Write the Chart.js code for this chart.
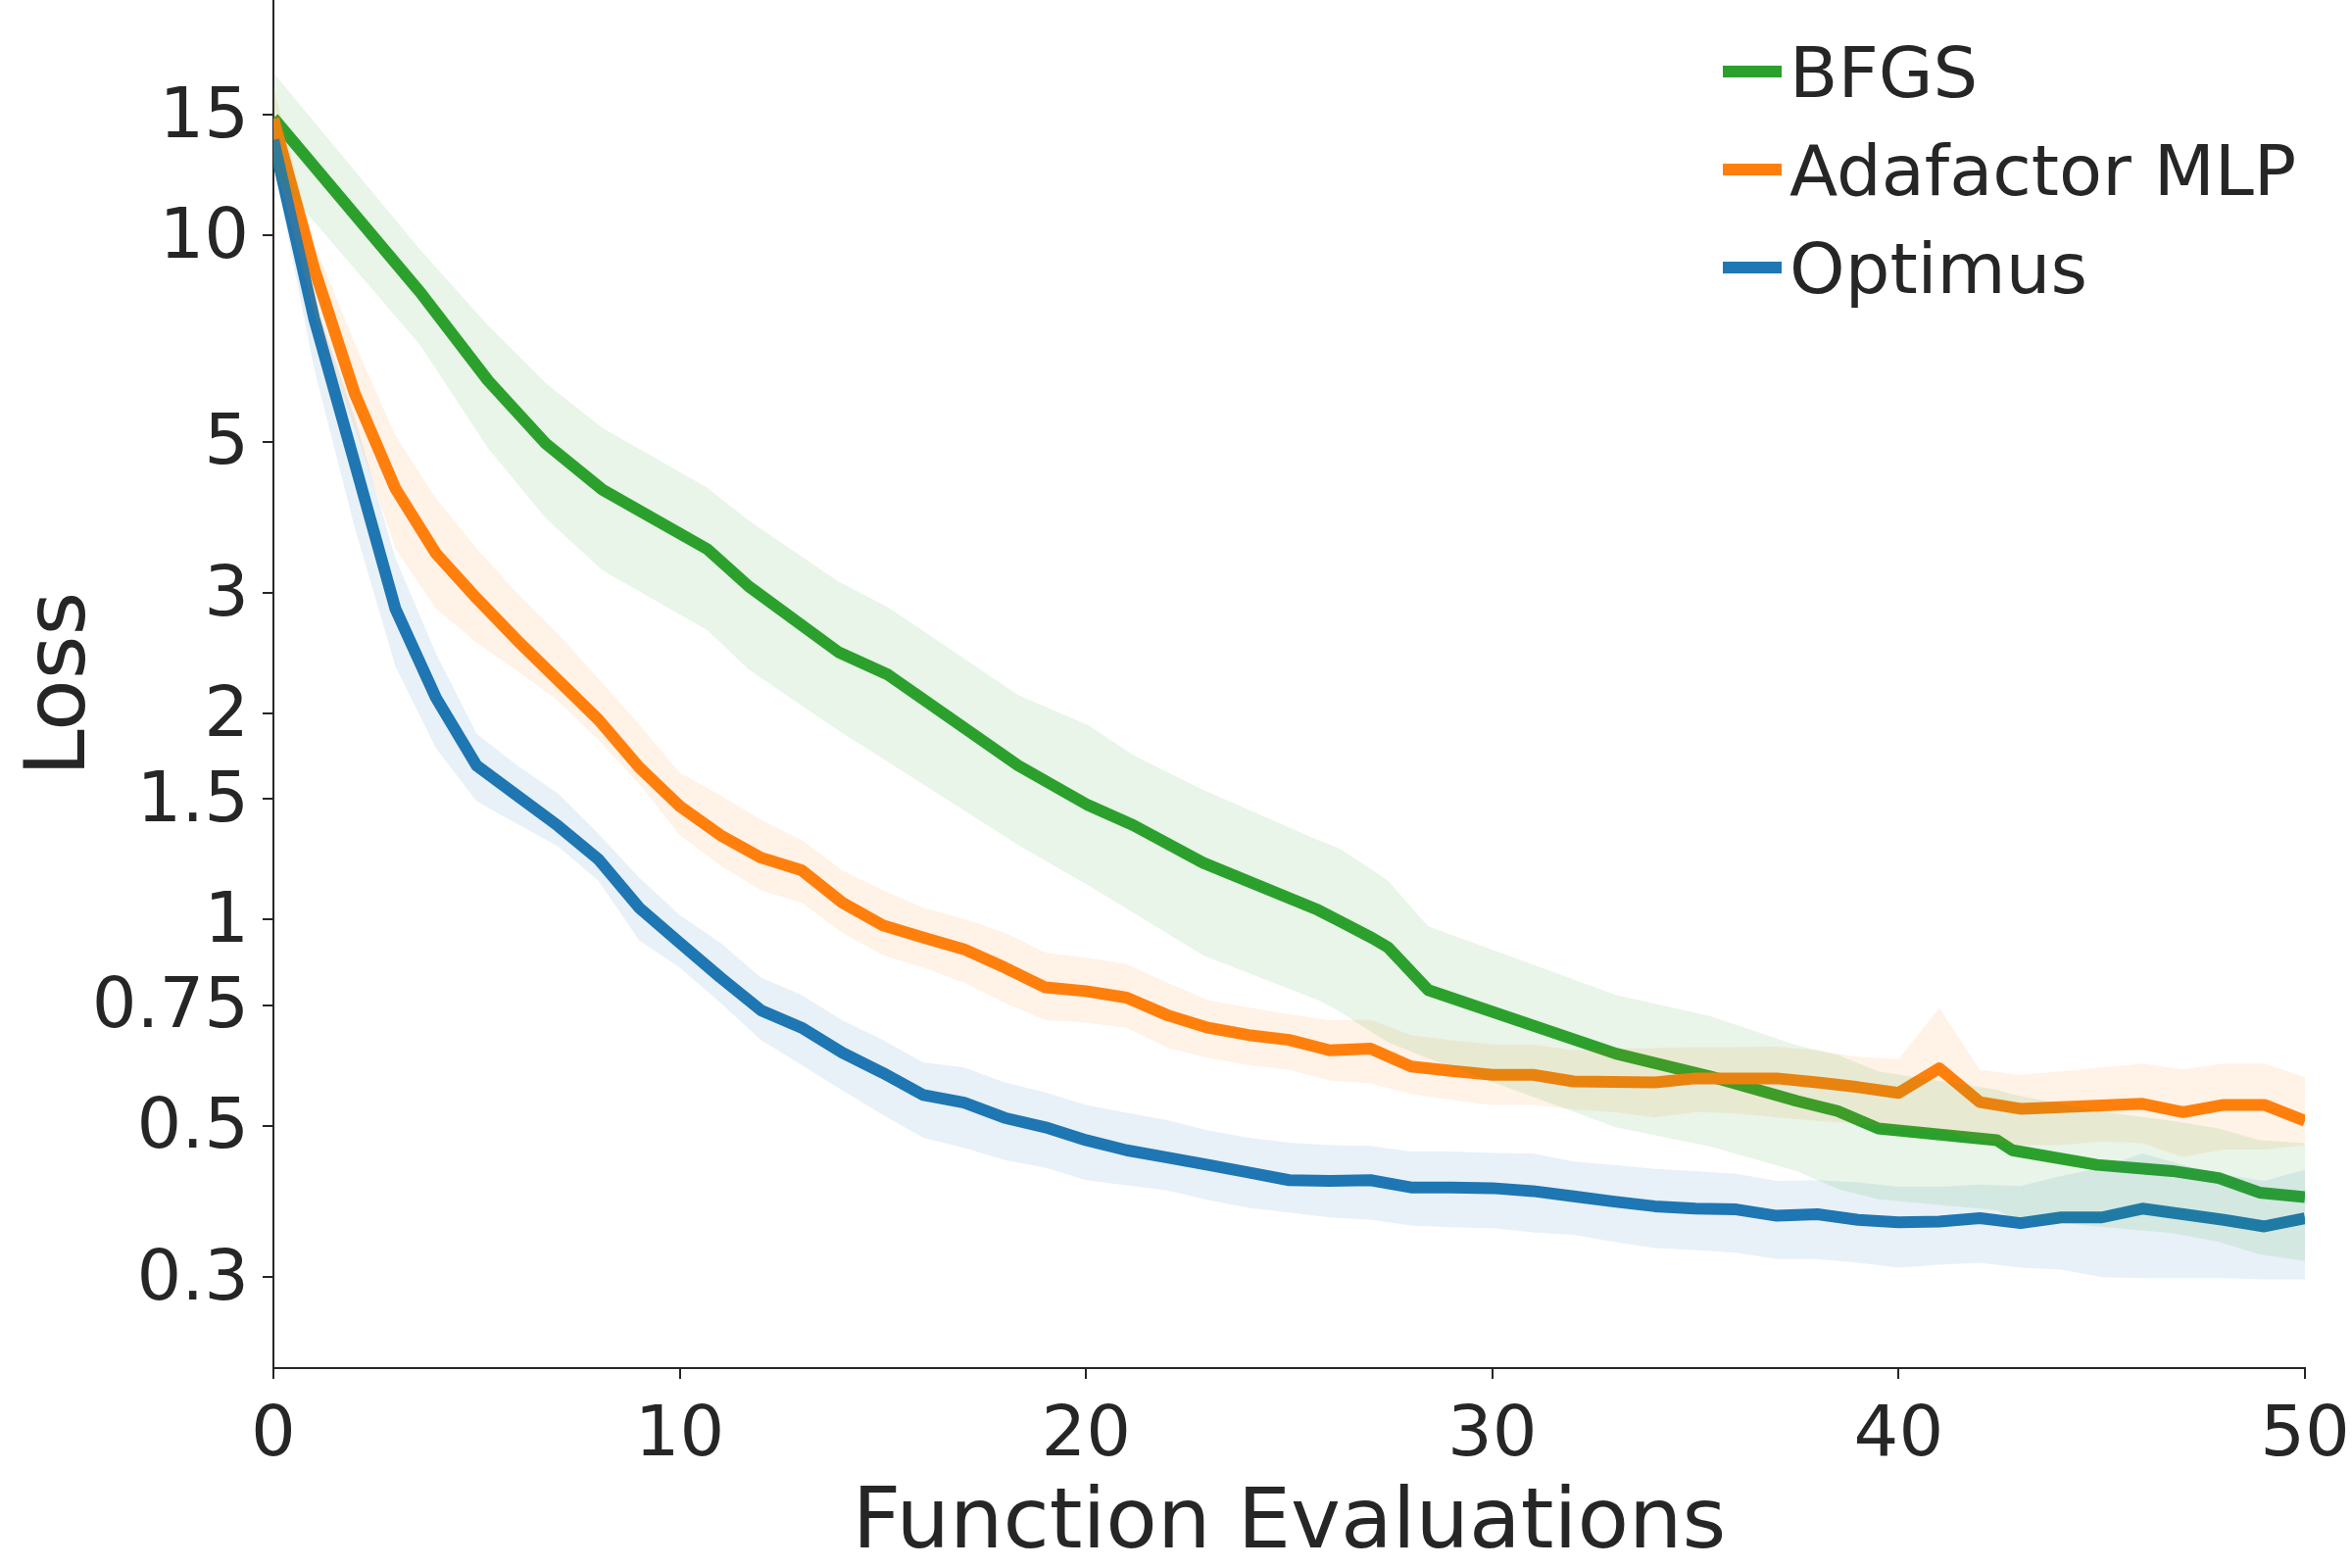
<!DOCTYPE html>
<html>
<head>
<meta charset="utf-8">
<script src="https://cdn.jsdelivr.net/npm/chart.js@4.4.1/dist/chart.umd.min.js"></script>
<style>
  html, body { margin: 0; padding: 0; background: #fff; }
  #wrap { width: 2400px; height: 1600px; }
</style>
</head>
<body>
<div id="wrap"><canvas id="lossChart" width="2400" height="1600"></canvas></div>
<script>
// function evaluations for Adafactor MLP and Optimus
const evals = [0,1,2,3,4,5,6,7,8,9,10,11,12,13,14,15,16,17,18,19,20,21,22,23,24,25,
  26,27,28,29,30,31,32,33,34,35,36,37,38,39,40,41,42,43,44,45,46,47,48,49,50];

const adafactorMean = [14.8, 8.96, 5.88, 4.27, 3.43, 2.95, 2.56, 2.24, 1.96, 1.67, 1.465,
  1.329, 1.232, 1.181, 1.059, 0.981, 0.941, 0.905, 0.851, 0.796, 0.786, 0.769, 0.725,
  0.695, 0.678, 0.667, 0.644, 0.648, 0.610, 0.601, 0.593, 0.593, 0.580, 0.579, 0.578,
  0.586, 0.586, 0.586, 0.578, 0.569, 0.558, 0.606, 0.541, 0.529, 0.532, 0.535, 0.538,
  0.523, 0.536, 0.536, 0.508];
const adafactorHigh = [16.5, 9.75, 6.96, 5.10, 4.13, 3.49, 3.00, 2.62, 2.25, 1.93, 1.64,
  1.52, 1.40, 1.307, 1.181, 1.104, 1.041, 1.002, 0.957, 0.895, 0.880, 0.861, 0.809,
  0.763, 0.744, 0.727, 0.713, 0.714, 0.678, 0.666, 0.657, 0.657, 0.644, 0.648, 0.649,
  0.651, 0.651, 0.652, 0.644, 0.630, 0.626, 0.743, 0.603, 0.593, 0.600, 0.608, 0.616,
  0.604, 0.616, 0.616, 0.588];
const adafactorLow = [13.0, 7.70, 5.23, 3.49, 2.85, 2.54, 2.31, 2.09, 1.83, 1.58, 1.329,
  1.20, 1.104, 1.059, 0.957, 0.887, 0.851, 0.809, 0.756, 0.713, 0.707, 0.695, 0.650,
  0.628, 0.613, 0.603, 0.582, 0.576, 0.556, 0.545, 0.536, 0.536, 0.528, 0.523, 0.514,
  0.523, 0.521, 0.514, 0.508, 0.503, 0.497, 0.492, 0.476, 0.468, 0.468, 0.474, 0.471,
  0.450, 0.461, 0.461, 0.468];

const optimusMean = [13.8, 7.57, 4.65, 2.85, 2.11, 1.68, 1.518, 1.372, 1.225, 1.041, 0.925,
  0.823, 0.737, 0.695, 0.639, 0.597, 0.554, 0.540, 0.513, 0.497, 0.476, 0.460, 0.449,
  0.438, 0.427, 0.416, 0.415, 0.416, 0.406, 0.406, 0.405, 0.401, 0.394, 0.387, 0.381,
  0.378, 0.377, 0.369, 0.371, 0.364, 0.361, 0.362, 0.366, 0.360, 0.367, 0.367, 0.378,
  0.371, 0.364, 0.356, 0.366];
const optimusHigh = [14.4, 8.10, 5.41, 3.38, 2.45, 1.87, 1.68, 1.53, 1.335, 1.152, 1.015,
  0.925, 0.823, 0.776, 0.713, 0.667, 0.618, 0.608, 0.578, 0.559, 0.536, 0.522, 0.509,
  0.492, 0.480, 0.472, 0.468, 0.467, 0.458, 0.458, 0.456, 0.455, 0.443, 0.438, 0.432,
  0.429, 0.425, 0.415, 0.416, 0.413, 0.407, 0.407, 0.410, 0.408, 0.422, 0.434, 0.455,
  0.438, 0.424, 0.415, 0.431];
const optimusLow = [12.8, 6.40, 3.74, 2.35, 1.78, 1.49, 1.38, 1.28, 1.14, 0.933, 0.851,
  0.756, 0.667, 0.613, 0.563, 0.518, 0.480, 0.464, 0.445, 0.434, 0.416, 0.409, 0.402,
  0.389, 0.379, 0.373, 0.367, 0.364, 0.357, 0.355, 0.354, 0.349, 0.346, 0.338, 0.331,
  0.329, 0.326, 0.319, 0.319, 0.315, 0.310, 0.313, 0.315, 0.310, 0.308, 0.300, 0.299,
  0.299, 0.299, 0.298, 0.298];

// BFGS runs land on uneven evaluation counts
const bfgsEvals = [0, 3.62, 5.28, 6.71, 8.10, 10.68, 11.70, 13.91, 15.13, 18.33, 20.05,
  21.16, 22.88, 25.71, 26.20, 27.04, 27.43, 28.42, 33.04, 35.35, 37.50, 38.50, 39.50,
  42.42, 42.80, 44.88, 46.73, 47.88, 48.88, 50];
const bfgsMean = [14.86, 8.25, 6.14, 4.96, 4.25, 3.48, 3.07, 2.46, 2.28, 1.68, 1.47,
  1.374, 1.211, 1.033, 0.998, 0.940, 0.911, 0.789, 0.637, 0.590, 0.543, 0.525, 0.495,
  0.476, 0.460, 0.438, 0.429, 0.419, 0.399, 0.393];
const bfgsHigh = [17.3, 9.52, 7.39, 6.08, 5.23, 4.28, 3.83, 3.12, 2.86, 2.13, 1.924,
  1.74, 1.547, 1.307, 1.274, 1.183, 1.14, 0.978, 0.776, 0.723, 0.655, 0.634, 0.60,
  0.564, 0.555, 0.525, 0.508, 0.495, 0.476, 0.471];
const bfgsLow = [12.3, 6.91, 4.89, 3.86, 3.24, 2.65, 2.32, 1.89, 1.70, 1.285, 1.123,
  1.024, 0.887, 0.763, 0.737, 0.684, 0.662, 0.627, 0.497, 0.466, 0.429, 0.404, 0.390,
  0.376, 0.366, 0.356, 0.348, 0.338, 0.324, 0.317];

const yTicks = [0.3, 0.5, 0.75, 1, 1.5, 2, 3, 5, 10, 15];
const yTickLabels = ['0.3', '0.5', '0.75', '1', '1.5', '2', '3', '5', '10', '15'];
const xTicks = [0, 10, 20, 30, 40, 50];

const seriesNames = ['BFGS', 'Adafactor MLP', 'Optimus'];
const seriesColors = ['#2ca02c', '#ff7f0e', '#1f77b4'];
const bandColors = ['rgba(44,160,44,0.11)', 'rgba(255,127,14,0.1)', 'rgba(31,119,180,0.1)'];

const textColor = '#262626';
const fontFamily = '"DejaVu Sans", sans-serif';

function points(xs, ys) {
  return xs.map((x, i) => ({ x: x, y: ys[i] }));
}

function meanLine(i, xs, ys) {
  return {
    label: seriesNames[i],
    data: points(xs, ys),
    borderColor: seriesColors[i],
    backgroundColor: seriesColors[i],
    borderWidth: 12,
    borderJoinStyle: 'round',
    pointRadius: 0,
    tension: 0,
    fill: false,
    order: 12 - i
  };
}

function bandEdge(i, xs, ys, upper) {
  return {
    label: seriesNames[i] + (upper ? ' high' : ' low'),
    data: points(xs, ys),
    borderWidth: 0,
    borderColor: 'rgba(0,0,0,0)',
    backgroundColor: bandColors[i],
    pointRadius: 0,
    tension: 0,
    fill: upper ? '+1' : false,
    order: 1
  };
}

// simple legend drawn in the top right corner, like the original figure
const cornerLegend = {
  id: 'cornerLegend',
  afterDraw(chart) {
    const c = chart.ctx;
    c.save();
    c.font = '72px ' + fontFamily;
    c.textBaseline = 'alphabetic';
    c.textAlign = 'left';
    seriesNames.forEach((name, i) => {
      const y = 73 + i * 100;
      c.fillStyle = seriesColors[i];
      c.fillRect(1758, y - 6, 60, 12);
      c.fillStyle = textColor;
      c.fillText(name, 1826, y + 26);
    });
    c.restore();
  }
};

const ctx = document.getElementById('lossChart').getContext('2d');
const lossChart = new Chart(ctx, {
  type: 'line',
  data: {
    datasets: [
      meanLine(0, bfgsEvals, bfgsMean),
      meanLine(1, evals, adafactorMean),
      meanLine(2, evals, optimusMean),
      bandEdge(0, bfgsEvals, bfgsHigh, true),
      bandEdge(0, bfgsEvals, bfgsLow, false),
      bandEdge(1, evals, adafactorHigh, true),
      bandEdge(1, evals, adafactorLow, false),
      bandEdge(2, evals, optimusHigh, true),
      bandEdge(2, evals, optimusLow, false)
    ]
  },
  options: {
    responsive: false,
    animation: false,
    devicePixelRatio: 1,
    layout: { padding: { left: 0, right: 48, top: 0, bottom: 0 } },
    plugins: {
      legend: { display: false },
      tooltip: { enabled: false },
      filler: { drawTime: 'beforeDatasetDraw' }
    },
    scales: {
      x: {
        type: 'linear',
        min: 0,
        max: 50,
        afterBuildTicks: (scale) => { scale.ticks = xTicks.map(v => ({ value: v })); },
        afterFit: (scale) => {
          scale.height = 204;
          scale.paddingLeft = 0;
          scale.paddingRight = 0;
        },
        ticks: {
          autoSkip: false,
          maxRotation: 0,
          padding: 16,
          color: textColor,
          font: { family: fontFamily, size: 72 },
          callback: (v) => String(v)
        },
        grid: { drawOnChartArea: false, drawTicks: true, tickLength: 11, color: textColor, lineWidth: 2 },
        border: { display: true, color: textColor, width: 2 },
        title: {
          display: true,
          text: 'Function Evaluations',
          color: textColor,
          font: { family: fontFamily, size: 86 },
          padding: { top: 0, bottom: -8 }
        }
      },
      y: {
        type: 'logarithmic',
        min: 0.221,
        max: 22.1,
        afterBuildTicks: (scale) => { scale.ticks = yTicks.map(v => ({ value: v })); },
        afterFit: (scale) => {
          scale.width = 279;
          scale.paddingTop = 0;
          scale.paddingBottom = 0;
        },
        ticks: {
          autoSkip: false,
          padding: 14,
          labelOffset: 4,
          color: textColor,
          font: { family: fontFamily, size: 72 },
          callback: (v) => {
            const k = yTicks.indexOf(v);
            return k >= 0 ? yTickLabels[k] : '';
          }
        },
        grid: { drawOnChartArea: false, drawTicks: true, tickLength: 11, color: textColor, lineWidth: 2 },
        border: { display: true, color: textColor, width: 2 },
        title: {
          display: true,
          text: 'Loss',
          color: textColor,
          font: { family: fontFamily, size: 86 },
          padding: { top: 12, bottom: 0 }
        }
      }
    }
  },
  plugins: [cornerLegend]
});
</script>
</body>
</html>
